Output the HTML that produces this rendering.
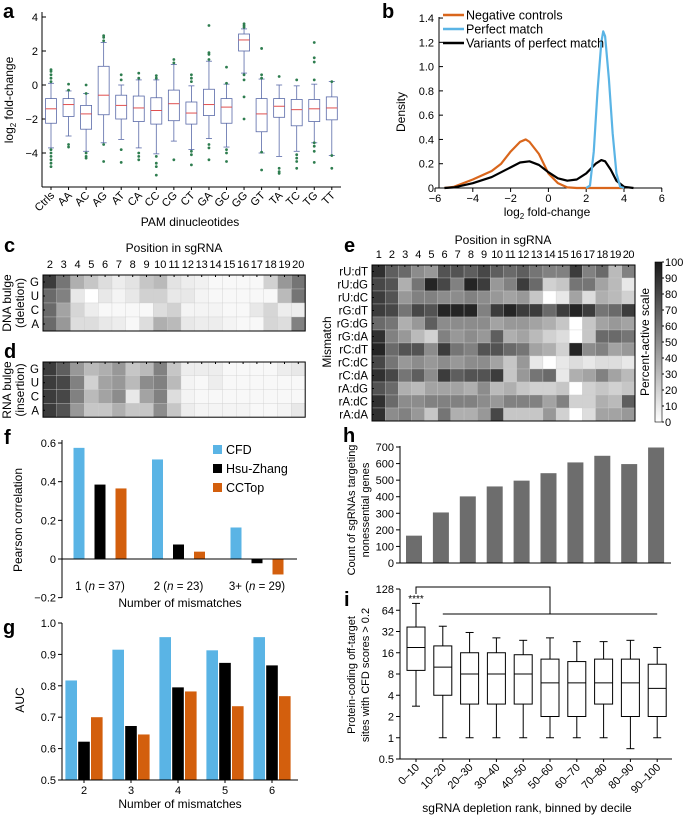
<!DOCTYPE html>
<html><head><meta charset="utf-8"><style>
body{margin:0;background:#fff}
svg{display:block;font-family:"Liberation Sans",sans-serif}
</style></head><body>
<svg id="fig" width="685" height="816" viewBox="0 0 685 816" xmlns="http://www.w3.org/2000/svg">
<g font-weight="bold" font-size="20">
<text x="3" y="18">a</text><text x="382" y="18">b</text><text x="4" y="252">c</text><text x="4" y="358">d</text><text x="344" y="252">e</text><text x="4" y="444">f</text><text x="3" y="634">g</text><text x="343" y="442">h</text><text x="344" y="606">i</text>
</g>
</svg>
<script>
const NS='http://www.w3.org/2000/svg';
const svg=document.getElementById('fig');
function mk(tag,attrs,parent,txt){const e=document.createElementNS(NS,tag);for(const k in attrs)e.setAttribute(k,attrs[k]);if(txt!==undefined)e.textContent=txt;(parent||svg).appendChild(e);return e;}

// ===== Panel a data =====
const aCats=['Ctrls','AA','AC','AG','AT','CA','CC','CG','CT','GA','GC','GG','GT','TA','TC','TG','TT'];
const aMed=[-1.4,-1.15,-1.7,-0.6,-1.2,-1.35,-1.5,-1.1,-1.65,-1.15,-1.3,2.65,-1.7,-1.25,-1.45,-1.4,-1.35];
const aQ1=[-2.25,-1.85,-2.6,-1.75,-2.0,-2.15,-2.3,-2.1,-2.3,-1.8,-2.25,2.0,-2.75,-1.9,-2.4,-2.15,-2.05];
const aQ3=[-0.8,-0.8,-1.2,1.1,-0.6,-0.65,-0.75,-0.3,-1.0,-0.25,-0.8,3.0,-0.8,-0.8,-0.85,-0.85,-0.7];
const aLo=[-3.7,-3.0,-3.9,-3.4,-3.2,-3.7,-4.05,-3.3,-3.8,-3.15,-3.65,0.7,-4.0,-4.2,-3.9,-3.4,-4.15];
const aHi=[0.1,-0.35,-0.5,2.5,0.0,0.3,0.3,1.2,-0.05,1.4,0.05,3.3,0.35,0.0,-0.05,0.05,0.2];
const aOut=[[0.2,0.4,0.6,0.8,0.9,-3.8,-4,-4.2,-4.4,-4.6,-4.8],[0.05,-0.3,-3.5,-3.65],[0,-0.5,-4,-4.2,-4.3],[2.6,2.8,2.9,-3.5,-4.5],[0.3,0.6,-3.8,-4.55],[0.4,0.7,-4,-4.2,-4.4],[0.4,0.55,-4.2,-4.6,-4.8,-5.3],[1.3,1.5,-4.4],[0.2,0.4,0.6,-3.9,-4.1,-4.7],[1.5,1.8,1.9,3.5,-3.5,-3.7,-4.4],[0.1,1.05,-3.8,-4,-4.5],[3.4,3.5,3.6,0.6,0.3,-0.7,-2],[0.4,0.6,2.15,-3.95,-5],[0.5,-4.9,-5.1,-5.2],[0.3,-4.1,-4.3,-4.5,-4.9],[0.3,1.35,1.6,2.5,-3.4,-3.6,-3.9,-4.55],[0.2,-4.15,-4.9]];
const aTicks=[4,2,0,-2,-4];
(function(){
 const g=mk('g',{});
 const y=v=>17+(4-v)*17, x=i=>51+i*17.55;
 mk('line',{x1:42,y1:12,x2:42,y2:187,stroke:'#000'},g);
 mk('line',{x1:42,y1:187,x2:341,y2:187,stroke:'#000'},g);
 aTicks.forEach(t=>{mk('line',{x1:42,x2:46,y1:y(t),y2:y(t),stroke:'#000'},g);const e=mk('text',{x:38,y:y(t)+4,'text-anchor':'end','font-size':11},g,t<0?'\u2212'+(-t):t);});
 aCats.forEach((c,i)=>{
  const cx=x(i);const b=mk('g',{},g);
  
  
  mk('line',{x1:cx,x2:cx,y1:y(aHi[i]),y2:y(aLo[i]),stroke:'#5a6aa8','stroke-width':0.8},b);
  mk('line',{x1:cx-3,x2:cx+3,y1:y(aHi[i]),y2:y(aHi[i]),stroke:'#5a6aa8','stroke-width':0.8},b);
  mk('line',{x1:cx-3,x2:cx+3,y1:y(aLo[i]),y2:y(aLo[i]),stroke:'#5a6aa8','stroke-width':0.8},b);
  mk('rect',{x:cx-5.5,y:y(aQ3[i]),width:11,height:y(aQ1[i])-y(aQ3[i]),fill:'#fff',stroke:'#5a6aa8','stroke-width':0.8},b);
  mk('line',{x1:cx-5.5,x2:cx+5.5,y1:y(aMed[i]),y2:y(aMed[i]),stroke:'#e05050','stroke-width':1},b);
  aOut[i].forEach(v=>mk('circle',{cx:cx,cy:y(v),r:1.4,fill:'#2e7d4f'},b));
  mk('line',{x1:cx,x2:cx,y1:187,y2:190,stroke:'#000'},g);
  const t=mk('text',{x:cx+4,y:196,'text-anchor':'end','font-size':11,transform:`rotate(-45 ${cx+4} 196)`},g,c);
  
 });
 mk('text',{x:190,y:226,'text-anchor':'middle','font-size':12,},g,'PAM dinucleotides');
 const yl=mk('text',{x:0,y:0,'text-anchor':'middle','font-size':12,transform:'translate(13,100) rotate(-90)',},g);
 yl.innerHTML='log<tspan font-size="8" dy="3">2</tspan><tspan dy="-3"> fold-change</tspan>';
})();

// ===== Panel b data =====
const bNegX=[-5.5,-5,-4,-3,-2.5,-2,-1.5,-1.2,-1,-0.5,0,0.5,1,1.5,4];
const bNegY=[0,0.01,0.07,0.14,0.2,0.3,0.38,0.4,0.38,0.28,0.12,0.04,0.005,0,0];
const bPerX=[2,2.2,2.4,2.6,2.8,2.9,3.0,3.2,3.4,3.6,3.8,4];
const bPerY=[0,0.02,0.3,0.8,1.2,1.29,1.25,0.9,0.45,0.12,0.01,0];
const bVarX=[-5.5,-5,-4,-3,-2,-1.5,-1,-0.5,0,0.5,1,1.5,2,2.5,2.8,3,3.3,3.6,4,4.5];
const bVarY=[0,0.005,0.04,0.09,0.17,0.21,0.22,0.19,0.13,0.08,0.06,0.07,0.12,0.2,0.23,0.22,0.15,0.06,0.01,0];
const bXT=[-6,-4,-2,0,2,4,6], bYT=[0,0.2,0.4,0.6,0.8,1.0,1.2,1.4];
(function(){
 const g=mk('g',{});
 const x=v=>435+(v+6)*18.9, y=v=>188-v*121.4;
 mk('line',{x1:439,y1:17,x2:439,y2:188,stroke:'#000'},g);
 mk('line',{x1:435,y1:188,x2:662,y2:188,stroke:'#000'},g);
 bYT.forEach(t=>{mk('line',{x1:439,x2:443,y1:y(t),y2:y(t),stroke:'#000'},g);mk('text',{x:434,y:y(t)+4,'text-anchor':'end','font-size':11},g,t===0?'0':t.toFixed(1));});
 bXT.forEach(t=>{mk('line',{x1:x(t),x2:x(t),y1:188,y2:192,stroke:'#000'},g);mk('text',{x:x(t),y:202,'text-anchor':'middle','font-size':11},g,t<0?'\u2212'+(-t):t);});
 const line=(X,Y,c,n)=>{const p=mk('polyline',{points:X.map((v,i)=>x(v)+','+y(Y[i])).join(' '),fill:'none',stroke:c,'stroke-width':2.2,'stroke-linejoin':'round'},g);};
 line(bNegX,bNegY,'#d9661c','negative-controls-curve');
 line(bVarX,bVarY,'#000','variants-curve');
 line(bPerX,bPerY,'#5ab4e5','perfect-match-curve');
 [['Negative controls','#d9661c'],['Perfect match','#5ab4e5'],['Variants of perfect match','#000']].forEach((l,i)=>{const yy=15+i*14;mk('line',{x1:443,x2:464,y1:yy,y2:yy,stroke:l[1],'stroke-width':2.5},g);mk('text',{x:466,y:yy+4.5,'font-size':12.5,},g,l[0]);});
 const xl=mk('text',{x:547,y:216,'text-anchor':'middle','font-size':12},g);xl.innerHTML='log<tspan font-size="8" dy="3">2</tspan><tspan dy="-3"> fold-change</tspan>';
 mk('text',{x:0,y:0,'text-anchor':'middle','font-size':12,transform:'translate(405,112) rotate(-90)'},g,'Density');
})();

// ===== Heatmap helpers =====
function gray(d){const v=Math.round(255-d*2.3);return `rgb(${v},${v},${v})`;}
function heat(name,data,x0,y0,cw,ch,rows){
 const g=mk('g',{});
 data.forEach((row,r)=>row.forEach((d,c)=>{const e=mk('rect',{x:x0+c*cw,y:y0+r*ch,width:cw,height:ch,fill:gray(d),stroke:'#ccc','stroke-width':0.3},g);}));
 const W=cw*data[0].length,H=ch*data.length;
 mk('rect',{x:x0,y:y0,width:W,height:H,fill:'none',stroke:'#000','stroke-width':1},g);
 for(let c=0;c<data[0].length;c++)mk('line',{x1:x0+(c+.5)*cw,x2:x0+(c+.5)*cw,y1:y0,y2:y0+2,stroke:'#000'},g);
 rows.forEach((l,r)=>{mk('line',{x1:x0,x2:x0+2,y1:y0+(r+.5)*ch,y2:y0+(r+.5)*ch,stroke:'#000'},g);mk('text',{x:x0-4,y:y0+(r+.5)*ch+4,'text-anchor':'end','font-size':11.5},g,l);});
 return g;
}
const cPos=['2','3','4','5','6','7','8','9','10','11','12','13','14','15','16','17','18','19','20'];
const cRows=['G','U','C','A'];
const cData=[[85,60,35,25,15,8,12,25,30,12,8,6,3,3,3,3,20,45,60],[65,55,10,0,10,5,10,20,20,10,10,5,3,3,3,3,3,30,60],[65,40,18,8,3,3,3,3,15,20,5,5,5,3,3,10,18,8,8],[65,45,15,15,10,8,3,15,35,30,10,8,8,5,3,3,18,15,55]];
const dData=[[85,70,45,30,35,45,25,30,55,25,8,8,8,3,3,3,3,8,10],[85,80,55,20,40,45,30,50,55,30,5,3,8,3,3,3,3,3,3],[85,80,55,30,40,50,10,40,55,15,5,3,3,3,3,3,3,3,3],[85,75,45,25,25,35,25,25,50,25,8,5,5,5,5,3,3,5,10]];
const ePos=['1','2','3','4','5','6','7','8','9','10','11','12','13','14','15','16','17','18','19','20'];
const eRows=['rU:dT','rU:dG','rU:dC','rG:dT','rG:dG','rG:dA','rC:dT','rC:dC','rC:dA','rA:dG','rA:dC','rA:dA'];
const eData=[[90,70,65,50,45,75,75,70,80,70,65,70,60,55,55,85,55,65,30,55],[80,75,35,60,95,80,55,95,85,45,55,85,65,20,25,60,60,40,30,10],[85,75,45,55,55,50,50,55,50,45,40,45,25,0,10,40,15,35,30,20],[85,80,60,80,75,95,95,95,55,85,95,85,85,65,85,95,85,60,65,85],[65,60,35,45,70,50,50,50,50,40,45,45,40,35,25,0,25,40,45,40],[90,55,45,30,20,55,45,50,45,70,35,40,30,20,15,0,25,65,65,60],[95,65,75,75,50,85,60,55,75,75,65,60,40,35,20,95,50,55,40,45],[80,60,45,50,45,50,45,50,50,40,25,45,10,0,10,15,10,15,15,10],[90,80,60,70,50,85,70,75,75,85,25,45,60,65,10,35,40,55,40,30],[75,65,35,30,40,40,40,35,50,30,35,25,20,20,25,0,20,25,20,25],[90,65,50,50,55,55,55,55,50,45,55,55,55,40,55,20,20,35,30,70],[90,50,55,45,25,60,35,35,45,80,25,25,25,45,20,0,15,40,40,45]];
const cbTicks=[100,90,80,70,60,50,40,30,20,10,0];
(function(){
 const gc=heat('panel-c-dna-bulge-heatmap',cData,43,275,13.8,14,cRows);
 cPos.forEach((p,i)=>mk('text',{x:43+(i+.5)*13.8,y:268,'text-anchor':'middle','font-size':11},gc,p));
 mk('text',{x:174,y:252,'text-anchor':'middle','font-size':12},gc,'Position in sgRNA');
 mk('text',{x:0,y:0,'text-anchor':'middle','font-size':12,transform:'translate(11,303) rotate(-90)'},gc,'DNA bulge');
 mk('text',{x:0,y:0,'text-anchor':'middle','font-size':12,transform:'translate(24,303) rotate(-90)'},gc,'(deletion)');
 const gd=heat('panel-d-rna-bulge-heatmap',dData,43,362,13.8,13.8,cRows);
 mk('text',{x:0,y:0,'text-anchor':'middle','font-size':12,transform:'translate(11,390) rotate(-90)'},gd,'RNA bulge');
 mk('text',{x:0,y:0,'text-anchor':'middle','font-size':12,transform:'translate(24,390) rotate(-90)'},gd,'(insertion)');
 const ge=heat('panel-e-mismatch-heatmap',eData,372,265,13.15,13,eRows);
 ePos.forEach((p,i)=>mk('text',{x:372+(i+.5)*13.15,y:258,'text-anchor':'middle','font-size':11,'letter-spacing':'-0.5'},ge,p));
 mk('text',{x:503,y:244,'text-anchor':'middle','font-size':12},ge,'Position in sgRNA');
 mk('text',{x:0,y:0,'text-anchor':'middle','font-size':12,transform:'translate(331,342) rotate(-90)'},ge,'Mismatch');
 const cb=mk('g',{});
 const defs=mk('defs',{},cb);const lg=mk('linearGradient',{id:'cbg',x1:0,y1:0,x2:0,y2:1},defs);
 mk('stop',{offset:0,'stop-color':gray(100)},lg);mk('stop',{offset:1,'stop-color':gray(0)},lg);
 mk('rect',{x:655,y:262,width:7,height:160,fill:'url(#cbg)',stroke:'#000','stroke-width':0.6},cb);
 cbTicks.forEach(t=>{const yy=422-t*1.6;mk('line',{x1:662,x2:664,y1:yy,y2:yy,stroke:'#000'},cb);mk('text',{x:665,y:yy+4,'font-size':11},cb,t);});
 mk('text',{x:0,y:0,'text-anchor':'middle','font-size':12,transform:'translate(649,342) rotate(-90)'},cb,'Percent-active scale');
})();

// ===== Panel f data =====
const fGroups=['1 (n = 37)','2 (n = 23)','3+ (n = 29)'];
const fCFD=[0.575,0.515,0.163], fHsu=[0.385,0.075,-0.022], fCC=[0.365,0.038,-0.08];
const fTicks=[0.6,0.4,0.2,0,-0.2];
const colCFD='#5ab4e5',colHsu='#000',colCC='#d35f0d';
(function(){
 const g=mk('g',{});
 const y=v=>559-v*193.3;
 mk('line',{x1:62,y1:440,x2:62,y2:598,stroke:'#000'},g);
 fTicks.forEach(t=>{mk('line',{x1:58,x2:62,y1:y(t),y2:y(t),stroke:'#000'},g);mk('text',{x:56,y:y(t)+4,'text-anchor':'end','font-size':11},g,t===0?'0':(t<0?'\u2212'+(-t).toFixed(1):t.toFixed(1)));});
 [fCFD,fHsu,fCC].forEach((s,si)=>{s.forEach((v,gi)=>{const cx=100+gi*78.5+(si-1)*21;const r=mk('rect',{x:cx-5.5,y:Math.min(y(v),y(0)),width:11,height:Math.abs(y(v)-y(0)),fill:[colCFD,colHsu,colCC][si]},g);});});
 mk('line',{x1:62,y1:559,x2:297,y2:559,stroke:'#000'},g);
 fGroups.forEach((l,i)=>{const t=mk('text',{x:100+i*78.5,y:590,'text-anchor':'middle','font-size':11.5},g);const p=l.split('n');t.innerHTML=p[0]+'<tspan font-style="italic">n</tspan>'+p[1];});
 mk('text',{x:180,y:607,'text-anchor':'middle','font-size':12},g,'Number of mismatches');
 mk('text',{x:0,y:0,'text-anchor':'middle','font-size':12,transform:'translate(22,520) rotate(-90)'},g,'Pearson correlation');
 [['CFD',colCFD],['Hsu-Zhang',colHsu],['CCTop',colCC]].forEach((l,i)=>{const yy=450+i*19;mk('rect',{x:213,y:yy-5,width:9,height:9,fill:l[1]},g);mk('text',{x:226,y:yy+4,'font-size':12.5,},g,l[0]);});
})();

// ===== Panel g data =====
const gGroups=['2','3','4','5','6'];
const gCFD=[0.817,0.915,0.955,0.913,0.955], gHsu=[0.622,0.672,0.795,0.873,0.865], gCC=[0.7,0.645,0.782,0.735,0.767];
const gTicks=[1.0,0.9,0.8,0.7,0.6,0.5];
(function(){
 const g=mk('g',{});
 const y=v=>780-(v-0.5)*314;
 mk('line',{x1:62,y1:623,x2:62,y2:780,stroke:'#000'},g);
 gTicks.forEach(t=>{mk('line',{x1:58,x2:62,y1:y(t),y2:y(t),stroke:'#000'},g);mk('text',{x:56,y:y(t)+4,'text-anchor':'end','font-size':11},g,t.toFixed(1));});
 [gCFD,gHsu,gCC].forEach((s,si)=>{s.forEach((v,gi)=>{const cx=84+gi*47+(si-1)*12.8;const r=mk('rect',{x:cx-5.8,y:y(v),width:11.6,height:780-y(v),fill:[colCFD,colHsu,colCC][si]},g);});});
 mk('line',{x1:62,y1:780,x2:298,y2:780,stroke:'#000'},g);
 gGroups.forEach((l,i)=>{const cx=84+i*47;mk('line',{x1:cx,x2:cx,y1:780,y2:783,stroke:'#000'},g);mk('text',{x:cx,y:794,'text-anchor':'middle','font-size':11},g,l);});
 mk('text',{x:180,y:808,'text-anchor':'middle','font-size':12},g,'Number of mismatches');
 mk('text',{x:0,y:0,'text-anchor':'middle','font-size':12,transform:'translate(24,700) rotate(-90)'},g,'AUC');
})();

// ===== Panel h data =====
const hVals=[165,305,402,462,497,542,607,647,597,697];
const hTicks=[700,600,500,400,300,200,100,0];
(function(){
 const g=mk('g',{});
 const y=v=>563-v*0.1657;
 mk('line',{x1:400,y1:446,x2:400,y2:563,stroke:'#000'},g);
 hTicks.forEach(t=>{mk('line',{x1:396,x2:400,y1:y(t),y2:y(t),stroke:'#000'},g);mk('text',{x:394,y:y(t)+4,'text-anchor':'end','font-size':11},g,t);});
 hVals.forEach((v,i)=>{const cx=414+i*26.9;const r=mk('rect',{x:cx-8,y:y(v),width:16,height:563-y(v),fill:'#6d6d6d'},g);});
 mk('line',{x1:400,y1:563,x2:671,y2:563,stroke:'#000'},g);
 mk('text',{x:0,y:0,'text-anchor':'middle','font-size':11,transform:'translate(355,510) rotate(-90)'},g,'Count of sgRNAs targeting');
 mk('text',{x:0,y:0,'text-anchor':'middle','font-size':11,transform:'translate(369,510) rotate(-90)'},g,'nonessential genes');
})();

// ===== Panel i data =====
const iCats=['0\u201310','10\u201320','20\u201330','30\u201340','40\u201350','50\u201360','60\u201370','70\u201380','80\u201390','90\u2013100'];
const iMed=[19,10,8,8,8,6,6,6,6,5];
const iQ1=[9,4,3,3,3,2,2,3,2,2];
const iQ3=[37,20,16,16,15,13,12,13,13,11];
const iLo=[2.8,1,1,1,1,1,1,1,0.7,1];
const iHi=[80,38,31,26,24,26,23,23,24,19];
const iTicks=[128,64,32,16,8,4,2,1,0.5];
(function(){
 const g=mk('g',{});
 const y=v=>759-(Math.log2(v)+1)*21.25, x=i=>416+i*26.8;
 mk('line',{x1:400,y1:589,x2:400,y2:759,stroke:'#000'},g);
 mk('line',{x1:400,y1:759,x2:672,y2:759,stroke:'#000'},g);
 iTicks.forEach(t=>{mk('line',{x1:396,x2:400,y1:y(t),y2:y(t),stroke:'#000'},g);mk('text',{x:394,y:y(t)+4,'text-anchor':'end','font-size':11},g,t);});
 iCats.forEach((c,i)=>{
  const cx=x(i);const b=mk('g',{},g);
  
  
  const st={stroke:'#000','stroke-width':1};
  mk('line',Object.assign({x1:cx,x2:cx,y1:y(iHi[i]),y2:y(iLo[i])},st),b);
  mk('line',Object.assign({x1:cx-4,x2:cx+4,y1:y(iHi[i]),y2:y(iHi[i])},st),b);
  mk('line',Object.assign({x1:cx-4,x2:cx+4,y1:y(iLo[i]),y2:y(iLo[i])},st),b);
  mk('rect',{x:cx-9,y:y(iQ3[i]),width:18,height:y(iQ1[i])-y(iQ3[i]),fill:'#fff',stroke:'#000'},b);
  mk('line',Object.assign({x1:cx-9,x2:cx+9,y1:y(iMed[i]),y2:y(iMed[i])},st),b);
  mk('line',{x1:cx,x2:cx,y1:759,y2:762,stroke:'#000'},g);
  mk('text',{x:cx+4,y:768,'text-anchor':'end','font-size':11,transform:`rotate(-45 ${cx+4} 768)`},g,c);
 });
 const br=mk('g',{},g);
 mk('polyline',{points:`${x(0)},594 ${x(0)},587 550,587 550,614`,fill:'none',stroke:'#000'},br);
 mk('line',{x1:x(1),x2:x(9),y1:614,y2:614,stroke:'#000'},br);
 mk('text',{x:x(0),y:602,'text-anchor':'middle','font-size':10},br,'****');
 mk('text',{x:527,y:812,'text-anchor':'middle','font-size':12},g,'sgRNA depletion rank, binned by decile');
 mk('text',{x:0,y:0,'text-anchor':'middle','font-size':11,transform:'translate(355,675) rotate(-90)'},g,'Protein-coding off-target');
 mk('text',{x:0,y:0,'text-anchor':'middle','font-size':11,transform:'translate(369,675) rotate(-90)'},g,'sites with CFD scores > 0.2');
})();
</script>
</body></html>
